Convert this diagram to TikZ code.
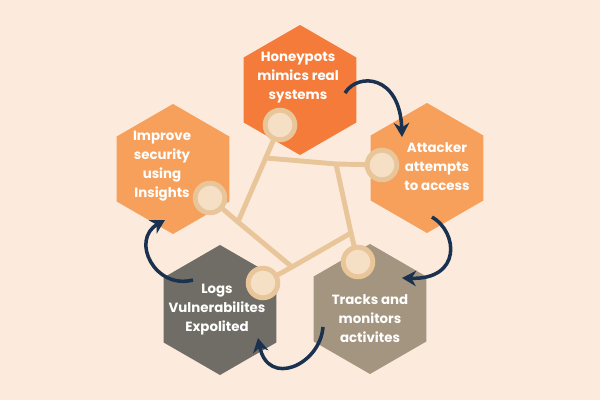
\documentclass[tikz,border=0pt]{standalone}
\usepackage{fontspec}
\setmainfont{Poppins}
\usepackage{xcolor}
\usepackage{tikz}
\usetikzlibrary{shapes.geometric,arrows.meta,positioning,calc}

\definecolor{bgpeach}{HTML}{FCEBDD}
\definecolor{deeporange}{HTML}{F47B3A}
\definecolor{softorange}{HTML}{F6A05B}
\definecolor{darkgrey}{HTML}{6F6D65}
\definecolor{taupe}{HTML}{A3957F}
\definecolor{linetan}{HTML}{E9C59A}
\definecolor{ringfill}{HTML}{F5DFC5}
\definecolor{navy}{HTML}{1A3150}

\begin{document}
\begin{tikzpicture}[x=0.025cm,y=0.025cm,
  hexa/.style={regular polygon, regular polygon sides=6, shape border rotate=30,
    minimum size=3.25cm, inner sep=0pt, draw=none},
  txt/.style={text=white, font=\bfseries\fontsize{9.5}{13.5}\selectfont, align=center},
  ring/.style={circle, draw=linetan, fill=ringfill, line width=3.5pt,
    minimum size=0.74cm, inner sep=0pt},
  wire/.style={draw=linetan, line width=3.5pt, line cap=round, line join=round},
  turn/.style={draw=navy, line width=2.5pt, -{Stealth[length=10pt,width=11pt]}}]

\useasboundingbox[fill=bgpeach] (0,0) rectangle (600,400);

% hexagons
\node[hexa, fill=deeporange] (HP) at (300,310) {};
\node[hexa, fill=softorange] (AT) at (427,232) {};
\node[hexa, fill=taupe] (TR) at (370,91) {};
\node[hexa, fill=darkgrey] (LG) at (220,90) {};
\node[hexa, fill=softorange] (IM) at (173,231) {};

\node[txt] (HPt) at (298,322) {Honeypots\\mimics real\\systems};
\node[txt] (ATt) at (437,233) {Attacker\\attempts\\to access};
\node[txt] (TRt) at (370,81) {Tracks and\\monitors\\activites};
\node[txt] (LGt) at (217,90) {Logs\\Vulnerabilites\\Expolited};
\node[txt] (IMt) at (162,234) {Improve\\security\\using\\Insights};

% rings
\node[ring] (HPr) at (280,275) {};
\node[ring] (ATr) at (382,235) {};
\node[ring] (TRr) at (358,138) {};
\node[ring] (LGr) at (263,117) {};
\node[ring] (IMr) at (210,202) {};

% joints of the net
\coordinate (J1) at (238,178);
\coordinate (Jt) at ($(HPr)!0.34!(J1)$);
\coordinate (J4) at (336,236);
\coordinate (J3) at (351,167);
\coordinate (J2) at (292,133);

\draw[wire] (HPr) -- (J1);
\draw[wire] (Jt) -- (J4) -- (ATr);
\draw[wire] (J4) -- (J3) -- (TRr);
\draw[wire] (IMr) -- (J1) -- (J2);
\draw[wire] (LGr) -- (J2) -- (J3);

% curved arrows
\coordinate (A1s) at (345,307);
\coordinate (A1e) at (402,263);
\coordinate (A2s) at (432,183);
\coordinate (A2e) at (402,122);
\coordinate (A3s) at (323,73);
\coordinate (A3e) at (258,62);
\coordinate (A4s) at (193,120);
\coordinate (A4e) at (165,180);

\path[turn] (A1s) .. controls (358,328) and (400,325) .. (A1e);
\path[turn] (A2s) .. controls (458,168) and (462,120) .. (A2e);
\path[turn] (A3s) .. controls (320,35) and (268,12) .. (A3e);
\path[turn] (A4s) .. controls (155,110) and (130,160) .. (A4e);
\end{tikzpicture}
\end{document}
